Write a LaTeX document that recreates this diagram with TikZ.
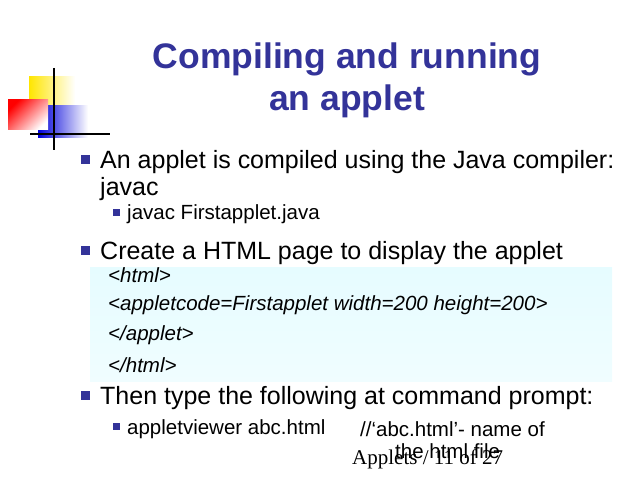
\documentclass[tikz,border=0pt]{standalone}
\usepackage{fontspec}
\setmainfont{Liberation Sans}
\newfontfamily\serifx{Liberation Serif}
\definecolor{tblue}{HTML}{333399}
\definecolor{boxc}{HTML}{E6FCFF}
\begin{document}
\begin{tikzpicture}[x=1pt,y=-1pt,
  big/.style={anchor=west,font=\fontsize{25}{28}\selectfont,inner sep=0},
  small/.style={anchor=west,font=\fontsize{20.5}{24}\selectfont,inner sep=0},
  code/.style={anchor=west,font=\fontsize{20.5}{24}\selectfont\itshape,inner sep=0},
  bul/.style={fill=tblue,minimum size=9,inner sep=0},
  sbul/.style={fill=tblue,minimum size=7,inner sep=0}]
\useasboundingbox (0,0) rectangle (638,478);
% logo
\shade[left color=yellow!80!orange,right color=white] (29,77) rectangle (75,106);
\shade[left color=blue!85!black,right color=white] (38,106) rectangle (88,138);
\shade[left color=red,right color=white,shading angle=45] (8,100) rectangle (48,130);
\draw[line width=1.2] (54,68) -- (54,150);
\draw[line width=1.2] (30,134) -- (110,134);
% title
\node[font=\fontsize{35.5}{42}\selectfont\bfseries,text=tblue,align=center,inner sep=0] (t) at (347,80) {Compiling and running\\an applet};
% box
\shade[top color=boxc,bottom color=boxc!60!white] (90,268) rectangle (612,382);
\node[bul] (b1) at (85,160) {};
\node[big] (l1) at (100,162) {An applet is compiled using the Java compiler:};
\node[big] (l2) at (100,189) {javac};
\node[sbul] (s1) at (116,213) {};
\node[small] (l3) at (127,214) {javac Firstapplet.java};
\node[bul] (b2) at (85,251) {};
\node[big] (l4) at (100,253) {Create a HTML page to display the applet};
\node[code] (c1) at (108,275) {<html>};
\node[code] (c2) at (108,305) {<appletcode=Firstapplet width=200 height=200>};
\node[code] (c3) at (108,335) {</applet>};
\node[code] (c4) at (108,365) {</html>};
\node[bul] (b3) at (85,396) {};
\node[big] (l5) at (100,398) {Then type the following at command prompt:};
\node[sbul] (s2) at (116,427) {};
\node[small] (l6) at (127,429) {appletviewer abc.html};
\node[small] (l7) at (360,429) {//‘abc.html’- name of};
\node[small] (l8) at (395,451) {the html file};
\node[anchor=west,inner sep=0,font=\serifx\fontsize{21}{24}\selectfont] (f) at (352,459) {Applets / 11 of 27};
\end{tikzpicture}
\end{document}
